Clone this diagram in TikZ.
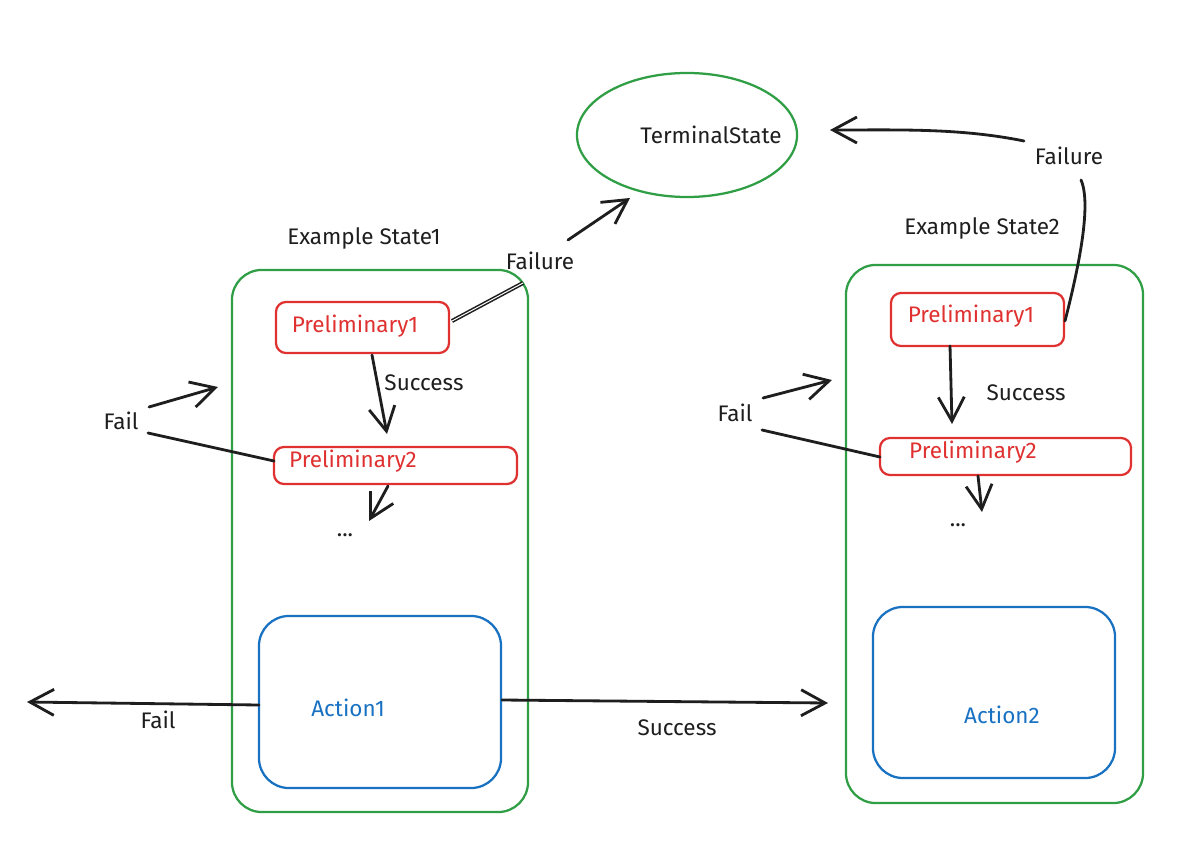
\documentclass[tikz,border=0pt]{standalone}
\usepackage{fontspec}
\setmainfont{Fira Sans}
\usetikzlibrary{arrows.meta,shapes.geometric}
\definecolor{exgreen}{HTML}{2F9E44}
\definecolor{exred}{HTML}{E03131}
\definecolor{exblue}{HTML}{1971C2}
\definecolor{exink}{HTML}{1E1E1E}
\begin{document}
\begin{tikzpicture}[x=0.025cm,y=-0.025cm,
  statebox/.style={draw=exgreen,line width=1.6pt,rounded corners=0.75cm,minimum width=#1,inner sep=0pt},
  prelbox/.style={draw=exred,line width=1.6pt,rounded corners=0.25cm,inner sep=0pt},
  actbox/.style={draw=exblue,line width=1.6pt,rounded corners=0.75cm,inner sep=0pt},
  txt/.style={text=exink,font=\fontsize{16}{19}\selectfont,inner sep=0pt},
  redtxt/.style={text=exred,font=\fontsize{16}{19}\selectfont,inner sep=0pt},
  bluetxt/.style={text=exblue,font=\fontsize{16}{19}\selectfont,inner sep=0pt},
  conn/.style={draw=exink,line width=2pt,line cap=round},
  arr/.style={conn,-{Straight Barb[length=0.6cm,width=0.65cm,line width=2pt]}},
]
\useasboundingbox (0,0) rectangle (1200,865);
\fill[white] (0,0) rectangle (1200,865);

% terminal state
\node[draw=exgreen,line width=1.6pt,ellipse,minimum width=5.5cm,minimum height=3.1cm,inner sep=0pt] (term) at (687,135) {};
\node[txt] (termtxt) at (711,135) {TerminalState};

% state 1
\node[statebox=7.4cm,minimum height=13.55cm] (s1) at (380,541) {};
\node[txt] (s1lab) at (364,238) {Example State1};
\node[prelbox,minimum width=4.325cm,minimum height=1.275cm] (p1a) at (362.5,327.5) {};
\node[redtxt] (p1atxt) at (355,326) {Preliminary1};
\node[prelbox,minimum width=6.075cm,minimum height=0.925cm] (p2a) at (395.5,465.5) {};
\node[redtxt] (p2atxt) at (353,461) {Preliminary2};
\node[txt] (dotsa) at (345,535) {...};
\node[actbox,minimum width=6.05cm,minimum height=4.3cm] (a1) at (380,702) {};
\node[bluetxt] (a1txt) at (348,708) {Action1};

% state 2
\node[statebox=7.425cm,minimum height=13.45cm] (s2) at (994.5,534) {};
\node[txt] (s2lab) at (982,228) {Example State2};
\node[prelbox,minimum width=4.325cm,minimum height=1.325cm] (p1b) at (977.5,319.5) {};
\node[redtxt] (p1btxt) at (971,316) {Preliminary1};
\node[prelbox,minimum width=6.275cm,minimum height=0.925cm] (p2b) at (1005.5,456.5) {};
\node[redtxt] (p2btxt) at (973,452) {Preliminary2};
\node[txt] (dotsb) at (958,525) {...};
\node[actbox,minimum width=6.05cm,minimum height=4.275cm] (a2) at (994,692.5) {};
\node[bluetxt] (a2txt) at (1002,715) {Action2};

% labels
\node[txt] (faila1) at (540,261) {Failure};
\node[txt] (succa) at (424,383) {Success};
\node[txt] (failsa) at (121,421) {Fail};
\node[txt] (failbot) at (158,720) {Fail};
\node[txt] (succbot) at (677,728) {Success};
\node[txt] (failb1) at (1069,156) {Failure};
\node[txt] (succb) at (1026,393) {Success};
\node[txt] (failsb) at (735,413) {Fail};

% coordinates for free ends
\coordinate (fa1) at (452,321);
\coordinate (fa2) at (523,283);
\coordinate (fa3) at (568,240);
\coordinate (fa4) at (630,198);
\coordinate (pa1) at (372,355);
\coordinate (pa2) at (387,434);
\coordinate (pa3) at (388,486);
\coordinate (pa4) at (369,521);
\coordinate (fs1) at (274,461);
\coordinate (fs2) at (148,433);
\coordinate (fs3) at (149,407);
\coordinate (fs4) at (218,387);
\coordinate (ab1) at (259,705);
\coordinate (ab2) at (27,702);
\coordinate (ab3) at (502,700);
\coordinate (ab4) at (828,703);
\coordinate (fb1) at (1065,321);
\coordinate (fb2) at (1081,180);
\coordinate (fb3) at (1024,141);
\coordinate (fb4) at (830,130);
\coordinate (pb1) at (950,346);
\coordinate (pb2) at (952,424);
\coordinate (pb3) at (978,476);
\coordinate (pb4) at (982,512);
\coordinate (fsb1) at (880,457);
\coordinate (fsb2) at (762,430);
\coordinate (fsb3) at (763,398);
\coordinate (fsb4) at (832,380);

% connectors state 1
\draw[draw=exink,line width=1.1pt,double=white,double distance=0.7pt] (fa1) -- (fa2);
\draw[arr] (fa3) -- (fa4);
\draw[arr] (pa1) -- (pa2);
\draw[arr] (pa3) -- (pa4);
\draw[conn] (fs1) -- (fs2);
\draw[arr] (fs3) -- (fs4);
\draw[arr] (ab1) -- (ab2);
\draw[arr] (ab3) -- (ab4);

% connectors state 2
\draw[conn] (fb1) .. controls (1078,270) and (1092,205) .. (fb2);
\draw[arr] (fb3) .. controls (960,128) and (900,130) .. (fb4);
\draw[arr] (pb1) -- (pb2);
\draw[arr] (pb3) -- (pb4);
\draw[conn] (fsb1) -- (fsb2);
\draw[arr] (fsb3) -- (fsb4);
\end{tikzpicture}
\end{document}
